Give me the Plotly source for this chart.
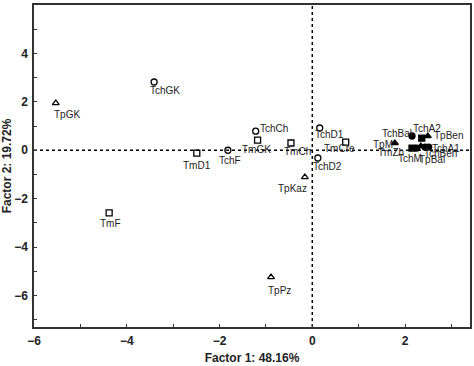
import plotly.graph_objects as go

# ---- data ----
labels = ["TpGK", "TchGK", "TmD1", "TchF", "TmF", "TpPz", "TpKaz",
          "TchCh", "TmGK", "TmCh", "TchD1", "TmCre", "TchD2",
          "TchBal", "TchA2", "TpBen", "TpM", "TmZh", "TchM", "TpBal", "TchBen", "TchA1"]
factor1 = [-5.53, -3.41, -2.49, -1.82, -4.38, -0.89, -0.16,
           -1.22, -1.18, -0.46, 0.16, 0.72, 0.12,
           2.15, 2.36, 2.49, 1.78, 2.15, 2.25, 2.34, 2.43, 2.51]
factor2 = [1.95, 2.82, -0.12, 0.0, -2.59, -5.24, -1.11,
           0.79, 0.42, 0.30, 0.92, 0.34, -0.32,
           0.59, 0.50, 0.59, 0.30, 0.09, 0.09, 0.17, 0.13, 0.13]
symbols = ["triangle-up-open", "circle-open", "square-open", "circle-open", "square-open",
           "triangle-up-open", "triangle-up-open",
           "circle-open", "square-open", "square-open", "circle-open", "square-open", "circle-open",
           "circle", "square", "triangle-up", "triangle-up", "square", "circle", "triangle-up",
           "circle", "circle"]

x_ticks = [-6, -4, -2, 0, 2]
y_ticks = [-6, -4, -2, 0, 2, 4, 6]

# label offsets in pixels (dx right, dy down) relative to each marker -- style only
label_dx = [11, 11, 0, 2, 1, 8, -12,
            18, -1, 7, 10, -6, 10,
            -15, 5, 21, -12, -21, -7, 11, 15, 17]
label_dy = [11, 9, 12, 10, 11, 13, 11,
            -3, 9, 8, 7, 6, 8,
            -2, -10, 0, 1, 4, 10, 13, 6, 1]

FONT = "Liberation Sans, Arial, sans-serif"

fig = go.Figure()
fig.add_trace(go.Scatter(
    x=factor1, y=factor2, mode="markers",
    marker=dict(symbol=symbols, size=6, color="black", line=dict(width=1.3, color="black")),
    cliponaxis=False, showlegend=False, hoverinfo="text", text=labels,
))

for lab, xv, yv, dx, dy in zip(labels, factor1, factor2, label_dx, label_dy):
    fig.add_annotation(x=xv, y=yv, text=lab, showarrow=False, xanchor="center", yanchor="middle",
                       xshift=dx, yshift=-dy,
                       font=dict(family=FONT, size=10, color="#222"))

fig.add_shape(type="line", xref="x", yref="paper", x0=0, x1=0, y0=0, y1=1,
              line=dict(color="black", width=1.5, dash="dot"), layer="below")
fig.add_shape(type="line", xref="paper", yref="y", x0=0, x1=1, y0=0, y1=0,
              line=dict(color="black", width=1.5, dash="dot"), layer="below")

axis_common = dict(
    showgrid=False, zeroline=False, showline=True, linecolor="#333", linewidth=1.5,
    mirror=True, ticks="inside", ticklen=3, tickcolor="#333", automargin=False,
    tickfont=dict(family=FONT, size=12, color="#222", weight="bold"),
    minor=dict(ticks="inside", ticklen=3, tickcolor="#333", dtick=1),
)
fig.update_xaxes(range=[-6, 3.4], tickvals=x_ticks, ticklabelstandoff=2, **axis_common,
                 title=dict(text="<b>Factor 1: 48.16%</b>", standoff=6,
                            font=dict(family=FONT, size=12, color="#222")))
fig.update_yaxes(range=[-7.3, 6], tickvals=y_ticks, ticklabelstandoff=2, **axis_common,
                 title=dict(text="<b>Factor 2: 19.72%</b>", standoff=3,
                            font=dict(family=FONT, size=12, color="#222")))

fig.update_layout(width=474, height=366, margin=dict(l=34, r=4, t=5, b=39),
                  plot_bgcolor="white", paper_bgcolor="white")
fig.write_html("out.html", config={"displayModeBar": False},
               post_script="document.body.style.margin='0';document.body.style.overflow='hidden';")
